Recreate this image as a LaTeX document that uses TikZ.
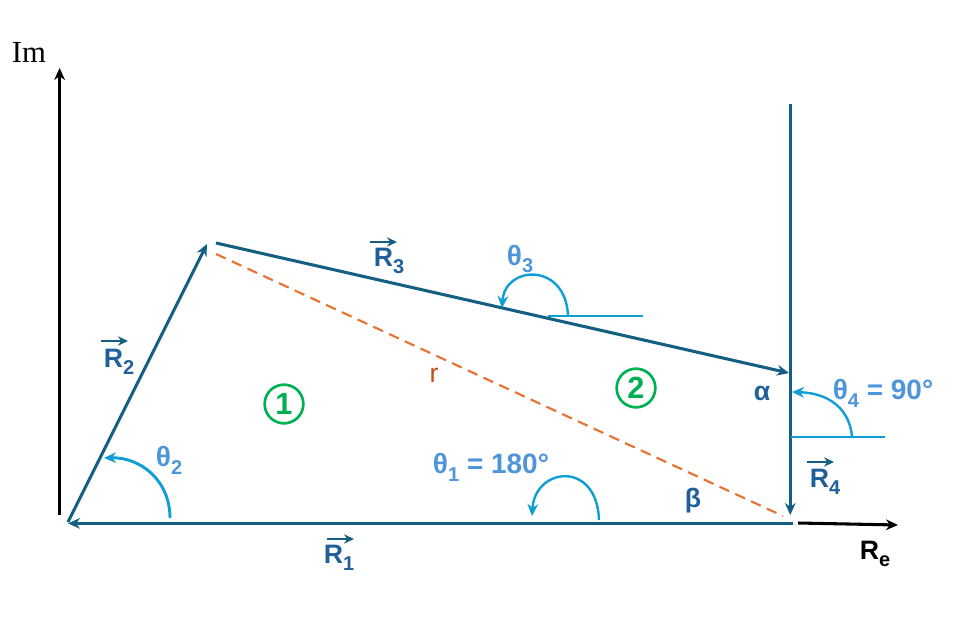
\documentclass[tikz,border=0pt]{standalone}
\usepackage{fontspec}
\usetikzlibrary{arrows.meta}
\setmainfont{Liberation Sans}
\newfontfamily\serifim{Liberation Serif}
\newcommand{\lsub}[1]{\raisebox{-.28em}{\fontsize{15}{16}\selectfont #1}}
\definecolor{linkblue}{HTML}{156082}
\definecolor{textblue}{HTML}{215F9A}
\definecolor{arcblue}{HTML}{0F9ED5}
\definecolor{anglelabel}{HTML}{4E95D9}
\definecolor{dashorange}{HTML}{E97132}
\definecolor{rbrown}{HTML}{C04F15}
\definecolor{loopgreen}{HTML}{00B050}
\tikzset{
    axis/.style={->, black, line width=2.3pt},
    link/.style={->, linkblue, line width=2.3pt},
    arcline/.style={->, arcblue, line width=1.8pt},
    refline/.style={arcblue, line width=1.5pt},
    rlabel/.style={textblue, font=\fontsize{20}{22}\selectfont\bfseries, inner sep=0pt},
    anglab/.style={anglelabel, font=\fontsize{21}{23}\selectfont\bfseries, inner sep=0pt},
    looplabel/.style={circle, draw=loopgreen, line width=2pt, text=loopgreen, minimum size=29pt, inner sep=0pt, font=\fontsize{23}{25}\selectfont\bfseries},
}
\begin{document}
\begin{tikzpicture}[x=.75pt, y=-.75pt, >={Stealth[length=9pt,width=8pt]}]
\useasboundingbox (0,0) rectangle (955,617);
% axes
\coordinate (imstart) at (59.6,515);
\coordinate (imend) at (59.6,68);
\coordinate (restart) at (798,523);
\coordinate (reend) at (898,525);
\draw[axis] (imstart)--(imend);
\draw[axis] (restart)--(reend);
\node[inner sep=0pt, font=\serifim\fontsize{23}{25}\selectfont] (imlabel) at (29,52) {Im};
\node[inner sep=0pt, font=\fontsize{20}{22}\selectfont\bfseries] (relabel) at (875,554) {R\lsub{e}};
% links
\coordinate (orig) at (68,522);
\coordinate (right) at (793,523.4);
\coordinate (r1end) at (68,523.4);
\coordinate (r2end) at (207,244);
\coordinate (r3start) at (216,243);
\coordinate (r3end) at (789,373);
\coordinate (r4start) at (790.3,104);
\coordinate (r4end) at (790.3,515);
\draw[link] (right)--(r1end);
\draw[link] (orig)--(r2end);
\draw[link] (r3start)--(r3end);
\draw[link] (r4start)--(r4end);
% diagonal
\coordinate (rstart) at (216,254);
\coordinate (rend) at (783,516);
\draw[dashorange, line width=1.6pt, dash pattern=on 8pt off 5pt] (rstart)--(rend);
\node[rbrown, inner sep=0pt, font=\fontsize{20}{22}\selectfont] (rlab) at (434,375) {r};
% link labels with their small arrows
\foreach \n/\x/\y/\ax/\ay in {1/339/558/327/539, 2/119/362/101/341, 3/389/261/370/242, 4/825/482/807/462}
{
    \node[rlabel] (R\n) at (\x,\y) {R\lsub{\n}};
    \coordinate (a\n) at (\ax,\ay);
    \coordinate (b\n) at (\ax+27,\ay);
    \draw[-{Stealth[length=7.5pt,width=7pt]}, linkblue, line width=1.9pt] (a\n)--(b\n);
}
% angle arcs
\coordinate (t2a) at (170,518);
\coordinate (t2b) at (104,458);
\coordinate (t1a) at (599,520);
\coordinate (t1b) at (532,516);
\coordinate (t3a) at (568,316);
\coordinate (t3b) at (502,308);
\coordinate (t4a) at (852,437);
\coordinate (t4b) at (792,392);
\draw[arcline, line width=2.2pt] (t2a) .. controls (170,480) and (140,457) .. (t2b);
\draw[arcline] (t1a) .. controls (597,460) and (535,467) .. (t1b);
\draw[arcline] (t3a) .. controls (566,262) and (505,265) .. (t3b);
\draw[arcline] (t4a) .. controls (850,410) and (830,393) .. (t4b);
% reference lines
\coordinate (h3a) at (548,316);
\coordinate (h3b) at (643,316);
\coordinate (h4a) at (791,437);
\coordinate (h4b) at (885,437);
\draw[refline] (h3a)--(h3b);
\draw[refline] (h4a)--(h4b);
% angle labels
\node[anglab] (th2) at (169,460) {θ\lsub{2}};
\node[anglab] (th3) at (520,259) {θ\lsub{3}};
\node[anglab] (th1) at (491,467) {θ\lsub{1} = 180°};
\node[anglab] (th4) at (883,393) {θ\lsub{4} = 90°};
\node[rlabel] (alpha) at (762,393) {α};
\node[rlabel] (beta) at (693,501) {β};
% loops
\node[looplabel] (loopone) at (284,404) {1};
\node[looplabel] (looptwo) at (636,388) {2};
\end{tikzpicture}
\end{document}
